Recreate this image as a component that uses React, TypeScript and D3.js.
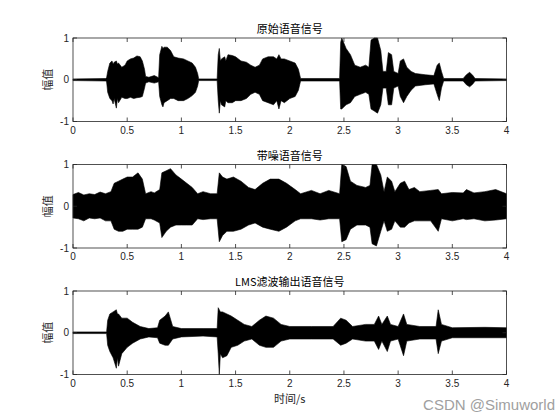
import React from "react";
import * as d3 from "d3";

// [time (s), upper envelope, lower envelope]
const originalEnvelope: [number, number, number][] = [
  [0, 0.02, -0.02], [0.3, 0.03, -0.03], [0.31, 0.05, -0.05], [0.32, 0.2, -0.3],
  [0.34, 0.4, -0.45], [0.36, 0.45, -0.5], [0.37, 0.38, -0.58], [0.38, 0.42, -0.45],
  [0.4, 0.45, -0.68], [0.41, 0.38, -0.45], [0.42, 0.4, -0.55], [0.45, 0.3, -0.42],
  [0.48, 0.35, -0.45], [0.5, 0.45, -0.45], [0.53, 0.5, -0.42], [0.56, 0.52, -0.45],
  [0.59, 0.57, -0.43], [0.62, 0.55, -0.42], [0.64, 0.45, -0.4], [0.66, 0.25, -0.2],
  [0.67, 0.08, -0.08], [0.7, 0.06, -0.05], [0.75, 0.1, -0.08], [0.79, 0.05, -0.05],
  [0.8, 0.6, -0.4], [0.82, 0.8, -0.6], [0.83, 0.75, -0.65], [0.84, 0.78, -0.55],
  [0.87, 0.78, -0.5], [0.9, 0.7, -0.45], [0.93, 0.55, -0.45], [0.97, 0.52, -0.5],
  [1.02, 0.5, -0.5], [1.06, 0.45, -0.45], [1.1, 0.4, -0.38], [1.13, 0.3, -0.3],
  [1.15, 0.15, -0.15], [1.16, 0.02, -0.02], [1.33, 0.02, -0.02], [1.34, 0.6, -0.5],
  [1.35, 0.75, -0.8], [1.36, 0.45, -0.5], [1.37, 0.5, -0.6], [1.4, 0.55, -0.65],
  [1.41, 0.45, -0.5], [1.43, 0.6, -0.55], [1.47, 0.58, -0.55], [1.5, 0.55, -0.5],
  [1.55, 0.45, -0.5], [1.6, 0.42, -0.45], [1.64, 0.35, -0.35], [1.68, 0.3, -0.3],
  [1.72, 0.35, -0.35], [1.75, 0.5, -0.5], [1.8, 0.55, -0.55], [1.85, 0.55, -0.6],
  [1.88, 0.5, -0.5], [1.9, 0.6, -0.7], [1.92, 0.5, -0.5], [1.95, 0.5, -0.55],
  [2.0, 0.45, -0.45], [2.05, 0.4, -0.4], [2.08, 0.25, -0.25], [2.1, 0.03, -0.03],
  [2.46, 0.03, -0.03], [2.47, 0.9, -0.7], [2.48, 1.0, -0.7], [2.52, 0.75, -0.6],
  [2.56, 0.6, -0.55], [2.6, 0.35, -0.4], [2.65, 0.3, -0.35], [2.7, 0.35, -0.3],
  [2.73, 0.3, -0.35], [2.75, 0.95, -0.7], [2.78, 1.0, -0.75], [2.81, 1.0, -0.8],
  [2.84, 0.7, -0.6], [2.86, 0.2, -0.2], [2.89, 0.2, -0.2], [2.91, 0.65, -0.6],
  [2.94, 0.6, -0.6], [2.96, 0.2, -0.2], [3.0, 0.15, -0.15], [3.02, 0.45, -0.4],
  [3.05, 0.5, -0.55], [3.08, 0.3, -0.4], [3.12, 0.2, -0.25], [3.16, 0.15, -0.15],
  [3.25, 0.12, -0.12], [3.33, 0.1, -0.1], [3.36, 0.35, -0.35], [3.38, 0.4, -0.5],
  [3.4, 0.2, -0.2], [3.42, 0.03, -0.03], [3.6, 0.03, -0.03], [3.63, 0.12, -0.12],
  [3.66, 0.18, -0.17], [3.69, 0.1, -0.1], [3.71, 0.03, -0.03], [4.0, 0.02, -0.02],
];

const noisyEnvelope: [number, number, number][] = [
  [0, 0.28, -0.28], [0.05, 0.33, -0.3], [0.1, 0.27, -0.35], [0.15, 0.3, -0.28],
  [0.2, 0.28, -0.3], [0.25, 0.34, -0.28], [0.3, 0.3, -0.35], [0.35, 0.35, -0.35],
  [0.38, 0.55, -0.55], [0.42, 0.6, -0.6], [0.46, 0.65, -0.6], [0.5, 0.7, -0.55],
  [0.55, 0.7, -0.55], [0.6, 0.8, -0.55], [0.64, 0.65, -0.5], [0.67, 0.3, -0.3],
  [0.72, 0.35, -0.3], [0.75, 0.32, -0.33], [0.8, 0.4, -0.4], [0.82, 0.8, -0.75],
  [0.86, 0.85, -0.6], [0.9, 0.9, -0.5], [0.95, 0.75, -0.45], [1.0, 0.65, -0.45],
  [1.05, 0.55, -0.45], [1.1, 0.45, -0.45], [1.15, 0.3, -0.3], [1.2, 0.35, -0.32],
  [1.27, 0.3, -0.3], [1.33, 0.3, -0.3], [1.35, 0.8, -0.85], [1.38, 0.7, -0.7],
  [1.42, 0.65, -0.6], [1.48, 0.7, -0.6], [1.55, 0.6, -0.55], [1.62, 0.45, -0.45],
  [1.68, 0.4, -0.4], [1.75, 0.55, -0.5], [1.82, 0.65, -0.55], [1.9, 0.65, -0.6],
  [1.97, 0.55, -0.5], [2.05, 0.4, -0.35], [2.1, 0.3, -0.3], [2.2, 0.38, -0.3],
  [2.28, 0.3, -0.33], [2.36, 0.38, -0.3], [2.46, 0.3, -0.3], [2.48, 1.0, -0.85],
  [2.52, 0.95, -0.8], [2.56, 0.6, -0.55], [2.62, 0.5, -0.45], [2.7, 0.45, -0.45],
  [2.74, 0.5, -0.5], [2.76, 1.0, -0.9], [2.8, 1.0, -0.95], [2.84, 0.75, -0.6],
  [2.87, 0.35, -0.35], [2.9, 0.7, -0.6], [2.94, 0.6, -0.55], [2.97, 0.35, -0.35],
  [3.02, 0.55, -0.5], [3.06, 0.6, -0.5], [3.1, 0.4, -0.4], [3.15, 0.45, -0.35],
  [3.2, 0.35, -0.35], [3.3, 0.38, -0.35], [3.37, 0.4, -0.6], [3.4, 0.3, -0.3],
  [3.5, 0.33, -0.35], [3.6, 0.32, -0.3], [3.63, 0.4, -0.32], [3.7, 0.32, -0.3],
  [3.8, 0.35, -0.35], [3.9, 0.4, -0.33], [4.0, 0.3, -0.3],
];

const lmsEnvelope: [number, number, number][] = [
  [0, 0.02, -0.02], [0.31, 0.02, -0.02], [0.32, 0.3, -0.3], [0.34, 0.45, -0.45],
  [0.37, 0.5, -0.6], [0.4, 0.55, -0.85], [0.41, 0.45, -0.6], [0.42, 0.45, -0.8],
  [0.45, 0.35, -0.5], [0.5, 0.35, -0.35], [0.55, 0.25, -0.25], [0.62, 0.15, -0.15],
  [0.7, 0.1, -0.1], [0.78, 0.12, -0.12], [0.8, 0.3, -0.25], [0.85, 0.4, -0.3],
  [0.88, 0.5, -0.3], [0.92, 0.15, -0.15], [1.0, 0.1, -0.1], [1.2, 0.1, -0.08],
  [1.33, 0.1, -0.1], [1.34, 0.6, -0.5], [1.35, 0.55, -1.0], [1.36, 0.5, -0.5],
  [1.38, 0.5, -0.6], [1.42, 0.45, -0.55], [1.46, 0.4, -0.35], [1.52, 0.3, -0.3],
  [1.58, 0.2, -0.2], [1.65, 0.15, -0.15], [1.72, 0.3, -0.3], [1.78, 0.4, -0.35],
  [1.85, 0.35, -0.35], [1.92, 0.2, -0.2], [2.0, 0.15, -0.15], [2.2, 0.15, -0.15],
  [2.4, 0.15, -0.15], [2.47, 0.35, -0.3], [2.52, 0.3, -0.25], [2.58, 0.15, -0.15],
  [2.7, 0.2, -0.2], [2.78, 0.2, -0.2], [2.82, 0.4, -0.4], [2.85, 0.2, -0.2],
  [2.9, 0.4, -0.45], [2.93, 0.2, -0.2], [3.0, 0.15, -0.15], [3.05, 0.45, -0.55],
  [3.08, 0.2, -0.2], [3.2, 0.15, -0.15], [3.35, 0.15, -0.15], [3.37, 0.55, -0.5],
  [3.4, 0.2, -0.2], [3.5, 0.12, -0.12], [3.8, 0.13, -0.12], [4.0, 0.12, -0.12],
];

const titles = ["原始语音信号", "带噪语音信号", "LMS滤波输出语音信号"];
const xTicks = [0, 0.5, 1, 1.5, 2, 2.5, 3, 3.5, 4];
const yTicks = [-1, 0, 1];
const yLabel = "幅值";
const xLabel = "时间/s";
const watermark = "CSDN @Simuworld";

const W = 560;
const H = 420;
const left = 73;
const right = 506.5;
const tops = [38, 164.5, 291];
const ph = 83.5;
const axisColor = "#262626";
const numFont = "'Liberation Sans', Arial, sans-serif";
const cjkFont = "'Noto Sans CJK SC', sans-serif";

function Panel({ data, top, title, showXLabel }: { data: [number, number, number][]; top: number; title: string; showXLabel: boolean }) {
  const x = d3.scaleLinear().domain([0, 4]).range([left, right]);
  const y = d3.scaleLinear().domain([-1, 1]).range([top + ph, top]);
  const area = d3
    .area<[number, number, number]>()
    .x((d) => x(d[0]))
    .y0((d) => y(d[2]))
    .y1((d) => y(d[1]))
    .curve(d3.curveLinear);
  const tl = 4;
  return (
    <g>
      <path d={area(data) || ""} fill="#000" stroke="#000" strokeWidth={0.6} />
      <rect x={left} y={top} width={right - left} height={ph} fill="none" stroke={axisColor} strokeWidth={0.8} />
      {xTicks.map((t) => (
        <g key={"x" + t}>
          <line x1={x(t)} x2={x(t)} y1={top + ph} y2={top + ph - tl} stroke={axisColor} strokeWidth={0.8} />
          <line x1={x(t)} x2={x(t)} y1={top} y2={top + tl} stroke={axisColor} strokeWidth={0.8} />
          <text x={x(t)} y={top + ph + 12} textAnchor="middle" fontSize={10} fontFamily={numFont} fill={axisColor}>
            {String(t)}
          </text>
        </g>
      ))}
      {yTicks.map((t) => (
        <g key={"y" + t}>
          <line x1={left} x2={left + tl} y1={y(t)} y2={y(t)} stroke={axisColor} strokeWidth={0.8} />
          <line x1={right} x2={right - tl} y1={y(t)} y2={y(t)} stroke={axisColor} strokeWidth={0.8} />
          <text x={left - 4} y={y(t) + 3.5} textAnchor="end" fontSize={10} fontFamily={numFont} fill={axisColor}>
            {String(t)}
          </text>
        </g>
      ))}
      <text
        transform={`translate(${left - 21},${top + ph / 2}) rotate(-90)`}
        textAnchor="middle"
        fontSize={11}
        fontFamily={cjkFont}
        fill={axisColor}
      >
        {yLabel}
      </text>
      <text x={(left + right) / 2} y={top - 5} textAnchor="middle" fontSize={11} fontFamily={cjkFont} fill="#000">
        {title}
      </text>
      {showXLabel && (
        <text x={(left + right) / 2} y={top + ph + 28} textAnchor="middle" fontSize={11} fontFamily={cjkFont} fill={axisColor}>
          {xLabel}
        </text>
      )}
    </g>
  );
}

export default function App() {
  const datasets = [originalEnvelope, noisyEnvelope, lmsEnvelope];
  return (
    <svg width={W} height={H} style={{ display: "block", position: "absolute", left: 0, top: 0 }}>
      <rect width={W} height={H} fill="#fff" />
      {datasets.map((d, i) => (
        <Panel key={i} data={d} top={tops[i]} title={titles[i]} showXLabel={i === 2} />
      ))}
      <text x={555} y={410} textAnchor="end" fontSize={15} fontFamily="'Liberation Sans', Arial, sans-serif" fill="#a0a0a0">
        {watermark}
      </text>
    </svg>
  );
}
